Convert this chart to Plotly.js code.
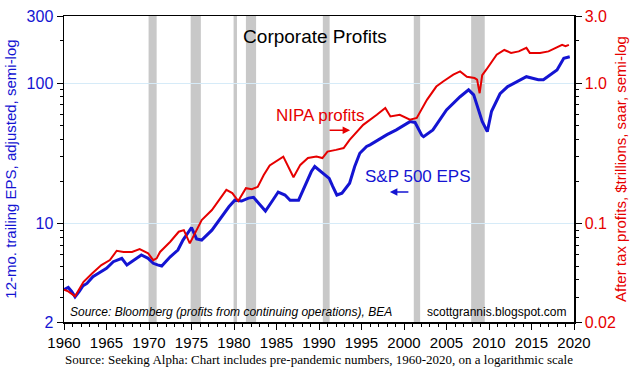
<!DOCTYPE html>
<html>
<head>
<meta charset="utf-8">
<script src="https://cdn.plot.ly/plotly-3.0.1.min.js"></script>
<style>html,body{margin:0;padding:0;background:#fff;}#chart{width:634px;height:376px;}</style>
</head>
<body>
<div id="chart"></div>
<script>
// S&P 500 trailing 12-month EPS (left axis)
const spYears = [1960.0,1960.5,1960.9,1961.3,1961.8,1962.2,1962.7,1963.4,1964.2,1965.0,1965.8,1966.3,1966.8,1967.4,1968.2,1969.1,1969.9,1970.5,1971.0,1971.5,1972.5,1973.4,1974.0,1975.0,1975.6,1976.2,1977.4,1978.4,1979.4,1980.1,1980.9,1981.7,1982.3,1982.9,1983.7,1984.5,1985.2,1986.0,1986.6,1987.6,1988.4,1989.1,1989.5,1990.4,1991.2,1991.6,1992.1,1992.7,1993.6,1994.2,1994.8,1995.6,1996.0,1998.0,1999.1,2000.7,2001.3,2002.1,2002.3,2003.4,2005.0,2006.6,2007.6,2008.2,2008.8,2009.2,2009.8,2010.3,2011.3,2012.2,2014.4,2015.8,2016.4,2018.0,2018.8,2019.5];
const spEPS   = [3.4,3.52,3.3,3.02,3.3,3.6,3.76,4.2,4.5,4.81,5.37,5.5,5.67,5.08,5.51,5.99,5.67,5.23,5.1,5.0,5.82,6.5,7.65,9.4,7.8,7.65,9.0,10.9,13.2,14.7,14.5,15.2,15.4,14.0,12.3,14.5,16.8,16.0,14.7,14.7,19.0,23.5,25.5,23.0,21.0,18.5,16.0,16.5,19.4,25.5,31.7,35.4,36.4,43,46.5,53.2,52.5,42.5,41.6,46.5,64.4,80,89.5,82.5,64.3,53.3,45.2,63,84,94.5,111,105.6,105.6,124,150,154];

// NIPA after-tax corporate profits, $ trillions (right axis)
const nipaYears = [1960.0,1960.5,1961.3,1962.3,1963.3,1964.4,1965.4,1966.2,1967.0,1968.0,1968.9,1969.9,1970.5,1970.9,1971.3,1972.5,1973.5,1974.1,1974.8,1975.4,1976.2,1977.4,1978.6,1979.1,1979.8,1980.5,1981.4,1982.1,1982.8,1983.5,1984.2,1985.2,1985.8,1987.0,1987.8,1988.7,1989.7,1990.4,1991.0,1992.0,1992.9,1993.6,1995.2,1996.8,1997.8,1998.4,1999.5,2000.7,2001.5,2002.7,2003.8,2004.6,2005.8,2006.6,2007.4,2008.3,2008.6,2008.9,2009.2,2009.7,2010.3,2010.9,2011.8,2012.6,2013.5,2014.4,2014.8,2016.0,2017.0,2017.9,2018.6,2019.0,2019.4];
const nipaProfits = [0.034,0.033,0.0305,0.0386,0.0443,0.0508,0.0551,0.0642,0.063,0.063,0.066,0.0615,0.0551,0.0567,0.063,0.0744,0.0877,0.09,0.0725,0.0854,0.106,0.125,0.156,0.174,0.165,0.145,0.179,0.176,0.183,0.222,0.26,0.284,0.30,0.214,0.262,0.293,0.30,0.293,0.326,0.335,0.345,0.395,0.505,0.595,0.665,0.579,0.595,0.549,0.565,0.76,0.945,1.026,1.148,1.21,1.11,1.086,1.06,0.847,1.14,1.25,1.42,1.59,1.72,1.64,1.68,1.78,1.64,1.64,1.68,1.78,1.87,1.83,1.87];

// Recession periods (shaded)
const recStart = [1969.95,1974.9,1979.95,1981.4,1990.45,2001.15,2007.9];
const recEnd   = [1970.9,1976.1,1980.35,1982.6,1991.25,2001.9,2009.5];

// Tick labels
const xTicks = [1960,1965,1970,1975,1980,1985,1990,1995,2000,2005,2010,2015,2020];
const leftTicks = [2,10,100,300];
const leftTickText = ['2','10','100','300'];
const leftMinor = [3,4,5,6,7,8,9,20,30,40,50,60,70,80,90,200];
const rightTicks = [0.02,0.1,1,3];
const rightTickText = ['0.02','0.1','1.0','3.0'];
const rightMinor = [0.03,0.04,0.05,0.06,0.07,0.08,0.09,0.2,0.3,0.4,0.5,0.6,0.7,0.8,0.9,2];
const xMinor = [];
for (let y = 1960; y <= 2020; y++) xMinor.push(y);

const BLUE = '#1414d2';
const RED = '#e60000';
const FONT = 'Liberation Sans, Arial, sans-serif';

const traces = [
  {x: spYears, y: spEPS, type: 'scatter', mode: 'lines', yaxis: 'y',
   line: {color: BLUE, width: 3}, hoverinfo: 'skip', name: 'S&P 500 EPS'},
  {x: nipaYears, y: nipaProfits, type: 'scatter', mode: 'lines', yaxis: 'y2',
   line: {color: RED, width: 2}, hoverinfo: 'skip', name: 'NIPA profits'}
];

const shapes = recStart.map((s, i) => ({
  type: 'rect', xref: 'x', yref: 'paper', x0: s, x1: recEnd[i], y0: 0, y1: 1,
  fillcolor: '#c8c8c8', line: {width: 0}, layer: 'below'
}));

const layout = {
  width: 634, height: 376,
  margin: {l: 64, r: 60, t: 16, b: 54},
  paper_bgcolor: '#fff', plot_bgcolor: '#fff',
  showlegend: false,
  font: {family: FONT, color: '#000'},
  title: {text: 'Corporate Profits', x: 0.492, y: 0.935, xref: 'paper', yref: 'paper',
          xanchor: 'center', yanchor: 'middle', font: {size: 19, color: '#000', family: FONT}},
  xaxis: {
    range: [1960, 2020], tickmode: 'array', tickvals: xTicks, ticktext: xTicks.map(String),
    ticks: 'outside', ticklen: 6, tickwidth: 1, tickcolor: '#000',
    minor: {tickmode: 'array', tickvals: xMinor, ticks: 'outside', ticklen: 3, tickcolor: '#000', showgrid: false},
    showline: true, mirror: true, linecolor: '#000', linewidth: 1.5,
    showgrid: false, zeroline: false, tickfont: {size: 15, color: '#000'}
  },
  yaxis: {
    type: 'log', range: [Math.log10(2), Math.log10(300)],
    tickmode: 'array', tickvals: leftTicks, ticktext: leftTickText,
    ticks: 'outside', ticklen: 6, tickcolor: '#000',
    minor: {tickmode: 'array', tickvals: leftMinor, ticks: 'outside', ticklen: 3, tickcolor: '#000', showgrid: false},
    showline: true, linecolor: '#000', linewidth: 1.5,
    showgrid: true, gridcolor: '#d6ebf8', gridwidth: 1, zeroline: false,
    tickfont: {size: 16, color: BLUE},
    title: {text: '12-mo. trailing EPS, adjusted, semi-log', font: {size: 15, color: BLUE}, standoff: 6}
  },
  yaxis2: {
    type: 'log', range: [Math.log10(0.02), Math.log10(3)], overlaying: 'y', side: 'right',
    tickmode: 'array', tickvals: rightTicks, ticktext: rightTickText,
    ticks: 'outside', ticklen: 6, tickcolor: '#000',
    minor: {tickmode: 'array', tickvals: rightMinor, ticks: 'outside', ticklen: 3, tickcolor: '#000', showgrid: false},
    showline: true, linecolor: '#000', linewidth: 1.5,
    showgrid: false, zeroline: false,
    tickfont: {size: 16, color: RED},
    title: {text: 'After tax profits, $trillions, saar, semi-log', font: {size: 15, color: RED}, standoff: 0}
  },
  shapes: shapes,
  annotations: [
    {text: 'NIPA profits', xref: 'paper', yref: 'paper', x: 0.502, y: 0.676, showarrow: false,
     xanchor: 'center', yanchor: 'middle', font: {size: 17, color: RED}},
    {text: '', xref: 'paper', yref: 'paper', x: 0.561, y: 0.627, ax: -22, ay: 0, showarrow: true,
     arrowhead: 2, arrowsize: 1, arrowwidth: 1.5, arrowcolor: RED},
    {text: 'S&amp;P 500 EPS', xref: 'paper', yref: 'paper', x: 0.694, y: 0.477, showarrow: false,
     xanchor: 'center', yanchor: 'middle', font: {size: 17, color: BLUE}},
    {text: '', xref: 'paper', yref: 'paper', x: 0.639, y: 0.425, ax: 20, ay: 0, showarrow: true,
     arrowhead: 2, arrowsize: 1, arrowwidth: 1.5, arrowcolor: BLUE},
    {text: '<i>Source: Bloomberg (profits from continuing operations), BEA</i>', xref: 'paper', yref: 'paper',
     x: 0.008, y: 0.033, xanchor: 'left', yanchor: 'middle', showarrow: false, font: {size: 12, color: '#000'}},
    {text: 'scottgrannis.blogspot.com', xref: 'paper', yref: 'paper',
     x: 0.988, y: 0.033, xanchor: 'right', yanchor: 'middle', showarrow: false, font: {size: 12, color: '#000'}},
    {text: 'Source: Seeking Alpha: Chart includes pre-pandemic numbers, 1960-2020, on a logarithmic scale',
     xref: 'paper', yref: 'paper', x: 0.50, y: -0.121, xanchor: 'center', yanchor: 'middle', showarrow: false,
     font: {size: 13, color: '#000', family: 'Liberation Serif, Times New Roman, serif'}}
  ]
};

Plotly.newPlot('chart', traces, layout, {staticPlot: true, displayModeBar: false});
</script>
</body>
</html>
